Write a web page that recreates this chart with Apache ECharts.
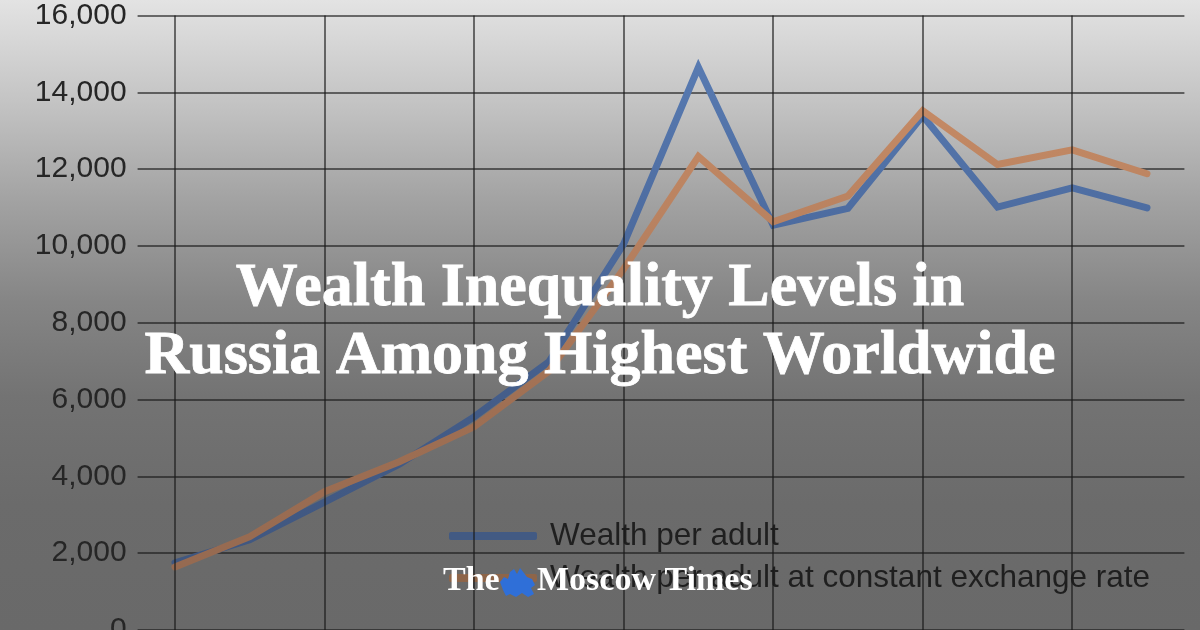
<!DOCTYPE html>
<html>
<head>
<meta charset="utf-8">
<script src="https://cdn.jsdelivr.net/npm/echarts@6/dist/echarts.min.js"></script>
<style>
html,body{margin:0;padding:0;width:1200px;height:630px;overflow:hidden;}
#c{width:1200px;height:630px;}
</style>
</head>
<body>
<div id="c"></div>
<script>
const years = ['2000','2001','2002','2003','2004','2005','2006','2007','2008','2009','2010','2011','2012','2013'];
const wealthPerAdult = [1750, 2350, 3330, 4320, 5550, 6980, 10050, 14650, 10540, 10980, 13390, 11010, 11510, 10990];
const wealthConstantRate = [1640, 2430, 3600, 4380, 5290, 6740, 9400, 12330, 10630, 11300, 13520, 12120, 12500, 11880];
const yTicks = [0, 2000, 4000, 6000, 8000, 10000, 12000, 14000, 16000];
const gridYears = ['2000','2002','2004','2006','2008','2010','2012'];
const titleLines = ['Wealth Inequality Levels in', 'Russia Among Highest Worldwide'];
const seriesNames = ['Wealth per adult', 'Wealth per adult at constant exchange rate'];
const brand = ['The', 'Moscow Times'];

const chart = echarts.init(document.getElementById('c'));
const gridColor = 'rgba(25,25,25,0.6)';
function vgrad(stops){
  return {type:'linear', x:0, y:0, x2:0, y2:630, global:true,
    colorStops: stops.map(s=>({offset:s[0], color:s[1]}))};
}
const titleFont = 'bold 62px "Liberation Serif"';
const option = {
  animation:false,
  backgroundColor:{type:'linear', x:0, y:0, x2:0, y2:1, colorStops:[
    {offset:0, color:'#e3e3e3'},
    {offset:0.16, color:'#c4c4c4'},
    {offset:0.32, color:'#a2a2a2'},
    {offset:0.48, color:'#858585'},
    {offset:0.63, color:'#737373'},
    {offset:0.8, color:'#6b6b6b'},
    {offset:1, color:'#696969'}
  ]},
  grid:{left:137.6, right:15.6, top:15.5, bottom:0, containLabel:false, outerBoundsMode:'none'},
  legend:{
    orient:'vertical', left:449, top:520, itemGap:10, padding:0,
    itemWidth:88, itemHeight:8, icon:'roundRect',
    data:[
      {name:seriesNames[0], itemStyle:{color:'#425a83'}},
      {name:seriesNames[1], itemStyle:{color:'#8e6549'}}
    ],
    textStyle:{color:'#1f1f1f', fontSize:31.5, fontFamily:'Liberation Sans', lineHeight:31, padding:[0,0,0,8]}
  },
  xAxis:{
    type:'category', data:years, boundaryGap:true,
    axisLine:{show:false}, axisTick:{show:false}, axisLabel:{show:false}, splitLine:{show:false}
  },
  yAxis:{
    type:'value', min:yTicks[0], max:yTicks[yTicks.length-1], interval:2000,
    axisLine:{show:false}, axisTick:{show:false},
    axisLabel:{color:'#262626', fontSize:30, fontFamily:'Liberation Sans', margin:11,
      formatter:v=>v.toLocaleString('en-US')},
    splitLine:{lineStyle:{color:gridColor, width:2}}
  },
  graphic:[
    {type:'text', x:600, y:289, z:100,
      style:{text:titleLines[0], fill:'#ffffff', font:titleFont, align:'center', verticalAlign:'middle', stroke:'#ffffff', lineWidth:0.8}},
    {type:'text', x:600, y:357, z:100,
      style:{text:titleLines[1], fill:'#ffffff', font:titleFont, align:'center', verticalAlign:'middle', stroke:'#ffffff', lineWidth:0.8}},
    {type:'text', x:443, y:581, z:100,
      style:{text:brand[0], fill:'#ffffff', font:'bold 34px "Liberation Serif"', align:'left', verticalAlign:'middle'}},
    {type:'polygon', z:100,
      shape:{points:[[503,590],[500,582],[504,577],[508,579],[510,572],[514,569],[517,574],[520,568],[524,573],[527,577],[532,579],[535,585],[531,588],[534,594],[528,597],[522,593],[516,597],[510,594],[506,596]]},
      style:{fill:'#2f6fd8'}},
    {type:'text', x:537, y:581, z:100,
      style:{text:brand[1], fill:'#ffffff', font:'bold 34px "Liberation Serif"', align:'left', verticalAlign:'middle'}}
  ],
  series:[
    {type:'line', name:'grid', data:[], z:1, silent:true,
      markLine:{silent:true, symbol:['none','none'], label:{show:false},
        lineStyle:{color:gridColor, width:2, type:'solid'},
        data: gridYears.map(y=>({xAxis:y}))}},
    {type:'line', name:seriesNames[0], data:wealthPerAdult, symbol:'none', z:3,
      lineStyle:{width:7, cap:'round', join:'miter',
        color:vgrad([[0,'#5c80b8'],[0.35,'#4d6ca0'],[0.65,'#435c88'],[1,'#3f557c']])},
      itemStyle:{color:'#425a83'}},
    {type:'line', name:seriesNames[1], data:wealthConstantRate, symbol:'none', z:4,
      lineStyle:{width:7, cap:'round', join:'miter',
        color:vgrad([[0,'#cf9169'],[0.35,'#b98260'],[0.65,'#9f6f53'],[1,'#926850']])},
      itemStyle:{color:'#8e6549'}}
  ]
};
chart.setOption(option);
</script>
</body>
</html>
